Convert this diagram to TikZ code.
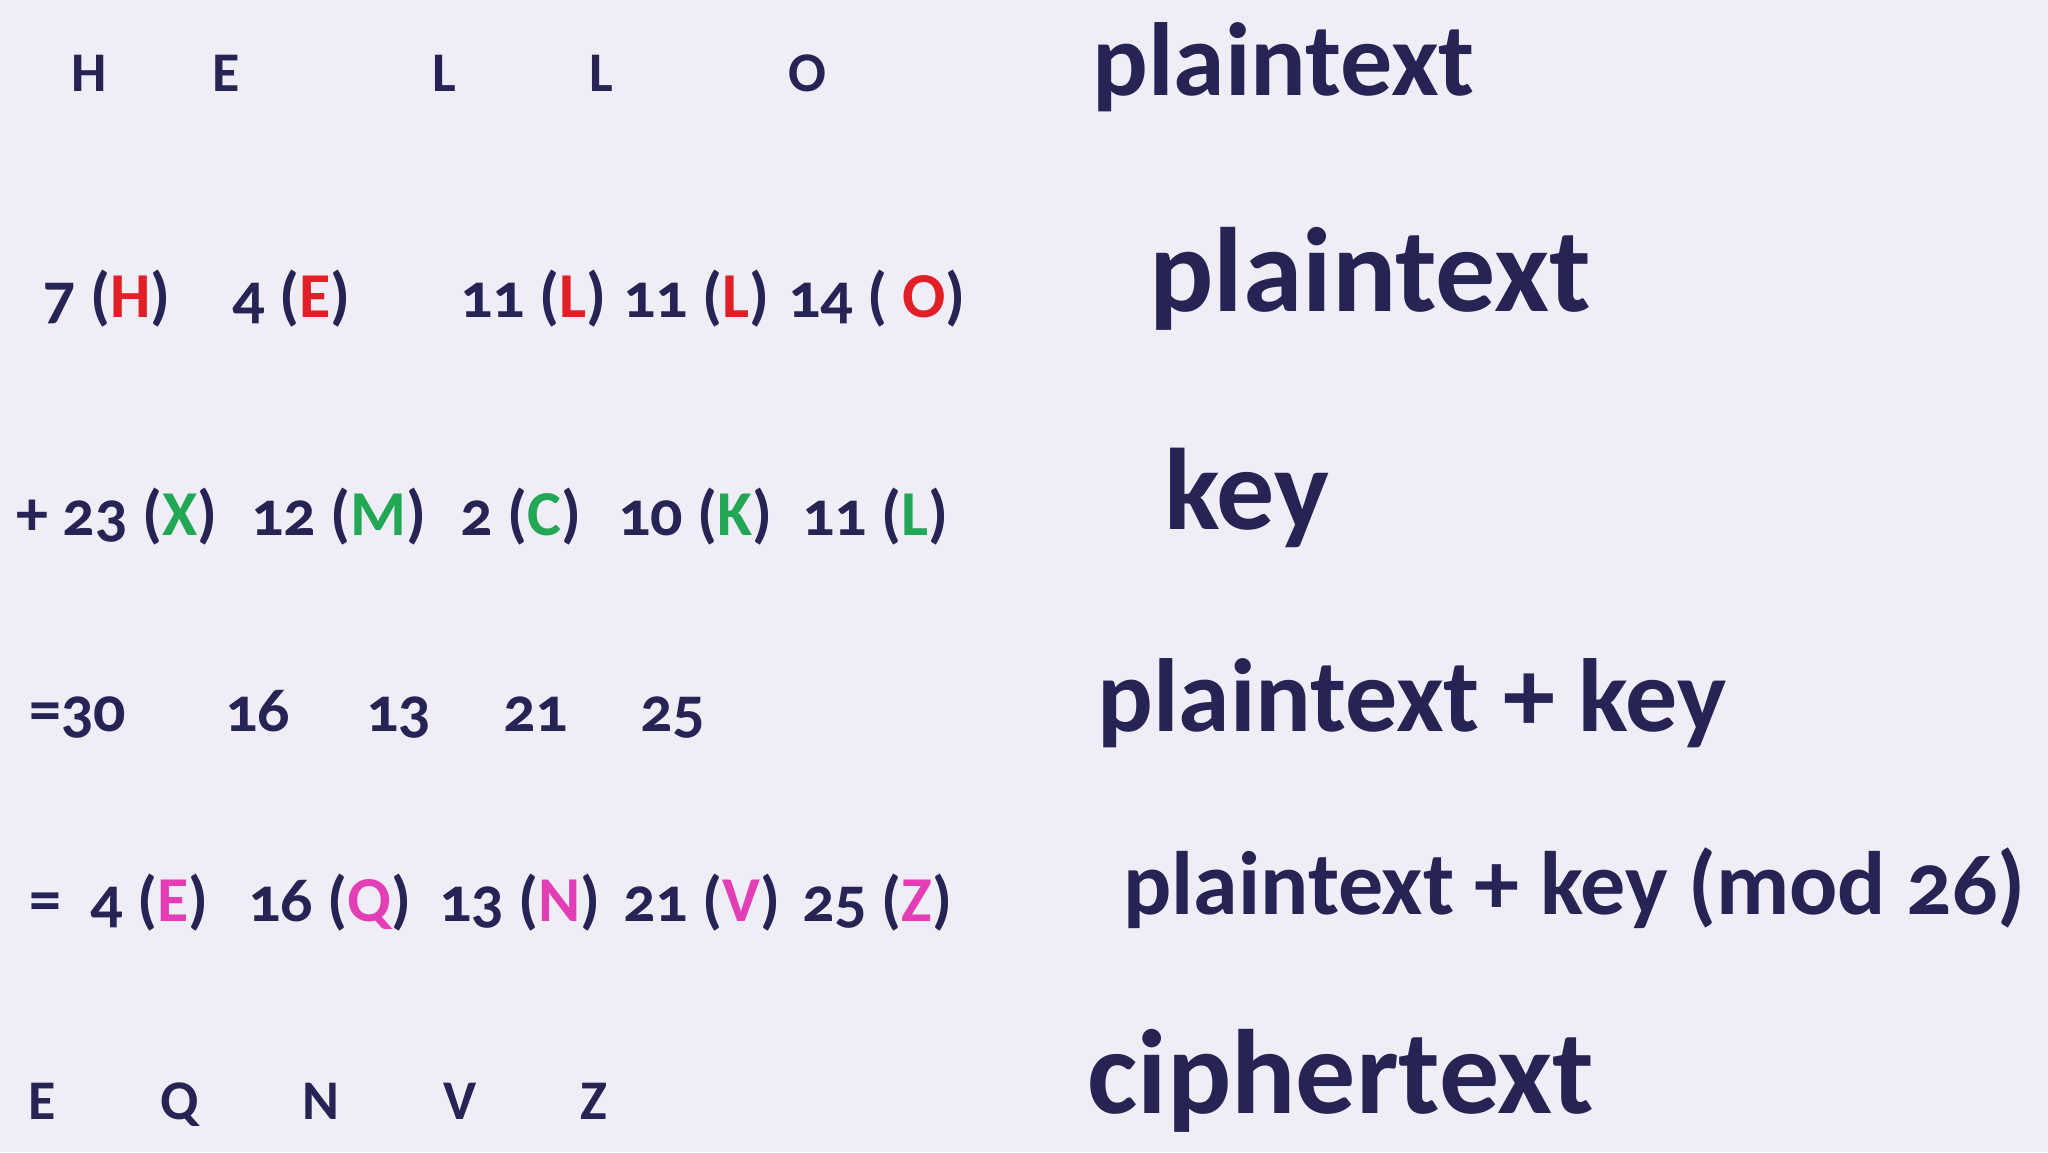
\documentclass[tikz,border=0pt]{standalone}
\usepackage{fontspec}
\setmainfont{Carlito}[Numbers=OldStyle]
\usepackage{xcolor}
\definecolor{paper}{RGB}{239,237,246}
\definecolor{ink}{RGB}{38,36,84}
\definecolor{plainred}{RGB}{226,30,38}
\definecolor{keygreen}{RGB}{34,168,84}
\definecolor{ciphermag}{RGB}{226,62,182}
\newcommand{\pl}[1]{\textcolor{plainred}{#1}}
\newcommand{\ky}[1]{\textcolor{keygreen}{#1}}
\newcommand{\cp}[1]{\textcolor{ciphermag}{#1}}
\begin{document}
\begin{tikzpicture}[x=0.5pt,y=-0.5pt]

		\tikzstyle{letter}=[anchor=base,inner sep=0pt,text=ink,
			font=\bfseries\fontsize{28}{30}\selectfont]
		\tikzstyle{item}=[anchor=base west,inner sep=0pt,text=ink,
			font=\bfseries\fontsize{32}{34}\selectfont]
		\tikzstyle{caption}=[anchor=base west,inner sep=0pt,text=ink,
			font=\bfseries\fontsize{52}{56}\selectfont]

		\fill[paper] (0,0) rectangle (2048,1152);
		\useasboundingbox (0,0) rectangle (2048,1152);

		% row 1: the message
		\node[letter]	(m-h)	at (89,91)	{H};
		\node[letter]	(m-e)	at (226,91)	{E};
		\node[letter]	(m-l1)	at (444,91)	{L};
		\node[letter]	(m-l2)	at (601,91)	{L};
		\node[letter]	(m-o)	at (807,91)	{O};
		\node[caption]	(cap-plain1)	at (1092,95)	{plaintext};

		% row 2: plaintext values
		\node[item]	(p-h)	at (43,317)	{7 (\pl{H})};
		\node[item]	(p-e)	at (232,317)	{4 (\pl{E})};
		\node[item]	(p-l1)	at (460,317)	{11 (\pl{L})};
		\node[item]	(p-l2)	at (623,317)	{11 (\pl{L})};
		\node[item]	(p-o)	at (788,317)	{14 ( \pl{O})};
		\node[caption,font=\bfseries\fontsize{60}{64}\selectfont]	(cap-plain2)	at (1149,311)	{plaintext};

		% row 3: key values
		\node[item]	(k-x)	at (16,535)	{+ 23 (\ky{X})};
		\node[item]	(k-m)	at (251,535)	{12 (\ky{M})};
		\node[item]	(k-c)	at (460,535)	{2 (\ky{C})};
		\node[item]	(k-k)	at (618,535)	{10 (\ky{K})};
		\node[item]	(k-l)	at (802,535)	{11 (\ky{L})};
		\node[caption,font=\bfseries\fontsize{58}{62}\selectfont]	(cap-key)	at (1164,529)	{key};

		% row 4: sums
		\node[item]	(s-1)	at (29,731)	{=30};
		\node[item]	(s-2)	at (225,731)	{16};
		\node[item]	(s-3)	at (366,731)	{13};
		\node[item]	(s-4)	at (503,731)	{21};
		\node[item]	(s-5)	at (640,731)	{25};
		\node[caption]	(cap-sum)	at (1097,731)	{plaintext + key};

		% row 5: sums mod 26
		\node[item]	(c-e)	at (29,921)	{= \ 4 (\cp{E})};
		\node[item]	(c-q)	at (248,921)	{16 (\cp{Q})};
		\node[item]	(c-n)	at (439,921)	{13 (\cp{N})};
		\node[item]	(c-v)	at (623,921)	{21 (\cp{V})};
		\node[item]	(c-z)	at (802,921)	{25 (\cp{Z})};
		\node[caption,font=\bfseries\fontsize{45}{48}\selectfont]	(cap-mod)	at (1123,914)	{plaintext + key (mod 26)};

		% row 6: the result
		\node[letter]	(r-e)	at (42,1119)	{E};
		\node[letter]	(r-q)	at (180,1119)	{Q};
		\node[letter]	(r-n)	at (321,1119)	{N};
		\node[letter]	(r-v)	at (460,1119)	{V};
		\node[letter]	(r-z)	at (594,1119)	{Z};
		\node[caption,font=\bfseries\fontsize{60}{64}\selectfont]	(cap-cipher)	at (1087,1113)	{ciphertext};

	\end{tikzpicture}
\end{document}
